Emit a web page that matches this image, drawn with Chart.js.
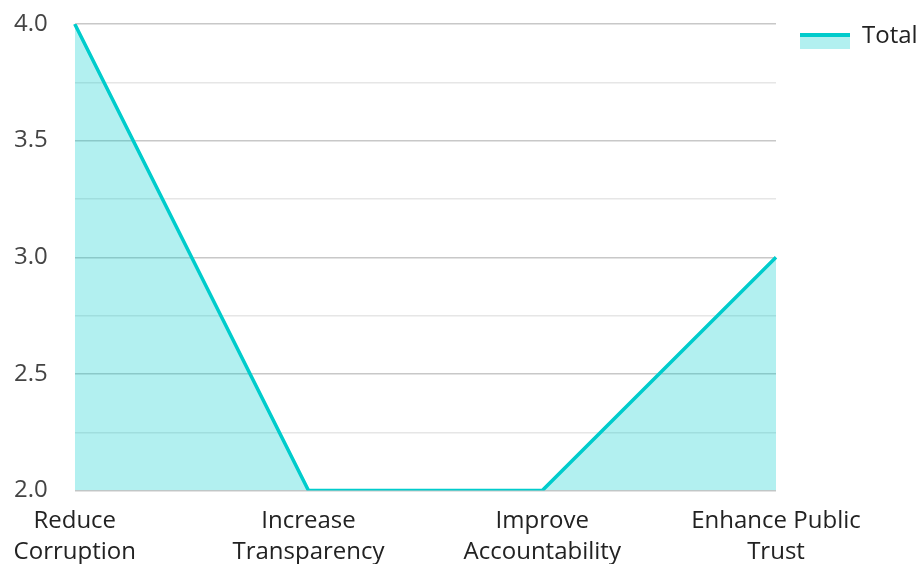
<!DOCTYPE html>
<html><head><meta charset="utf-8">
<script src="https://cdn.jsdelivr.net/npm/chart.js@4"></script>
<style>html,body{margin:0;padding:0;background:#fff}#wrap{width:918px;height:564px}</style>
</head><body><div id="wrap"><canvas id="c"></canvas></div>
<script>
const categories = [['Reduce','Corruption'],['Increase','Transparency'],['Improve','Accountability'],['Enhance Public','Trust']];
const totalValues = [4, 2, 2, 3];
const seriesName = 'Total';

const icon = document.createElement('canvas');
icon.width = 71; icon.height = 26;
(function(){const g=icon.getContext('2d');g.fillStyle='rgba(0,204,204,0.3)';g.fillRect(21,10,50,16);g.fillStyle='#00cccc';g.fillRect(21,10,50,4);})();

Chart.defaults.font.family = '"Open Sans", sans-serif';
Chart.defaults.font.size = 24;
Chart.defaults.color = '#333';

new Chart(document.getElementById('c'), {
  type: 'line',
  data: { labels: categories, datasets: [{
    label: seriesName, data: totalValues, borderColor: '#00cccc', borderWidth: 3.5,
    backgroundColor: 'rgba(0,204,204,0.3)', fill: 'origin', pointRadius: 0, tension: 0,
    pointStyle: icon
  }]},
  options: {
    responsive: true, maintainAspectRatio: false, animation: false,
    layout: { padding: { left: 10, right: 0, top: 13, bottom: 0 } },
    plugins: {
      legend: { position: 'right', align: 'start', maxWidth: 142,
        title: { display: true, text: ' ', font: { size: 8, lineHeight: 1 }, padding: 0 },
        labels: { usePointStyle: true, pointStyleWidth: 71, boxHeight: 24, padding: 3, color: '#222', font: { size: 24 } } },
      tooltip: { enabled: false }
    },
    scales: {
      x: { offset: false, border: { display: false },
           grid: { display: true, drawOnChartArea: false, drawTicks: true, tickLength: 11, tickColor: 'rgba(0,0,0,0)' },
           afterFit: s => { s.height -= 8; },
           ticks: { maxRotation: 0, autoSkip: false, color: '#222', padding: 4, font: { size: 24, lineHeight: 1.3 } } },
      y: { min: 2, max: 4, border: { display: false },
           afterFit: s => { s.paddingTop = 24; },
           grid: { color: c => (Math.abs(c.tick.value*2 - Math.round(c.tick.value*2)) < 1e-6 ? '#c8c8c8' : '#e6e6e6'), lineWidth: 1.5,
                   drawTicks: true, tickLength: 23, tickColor: 'rgba(0,0,0,0)' },
           ticks: { stepSize: 0.25, padding: 4, color: '#444',
             callback: v => (Math.abs(v*2 - Math.round(v*2)) < 1e-6 ? v.toFixed(1) : '') } }
    }
  }
});
</script></body></html>
